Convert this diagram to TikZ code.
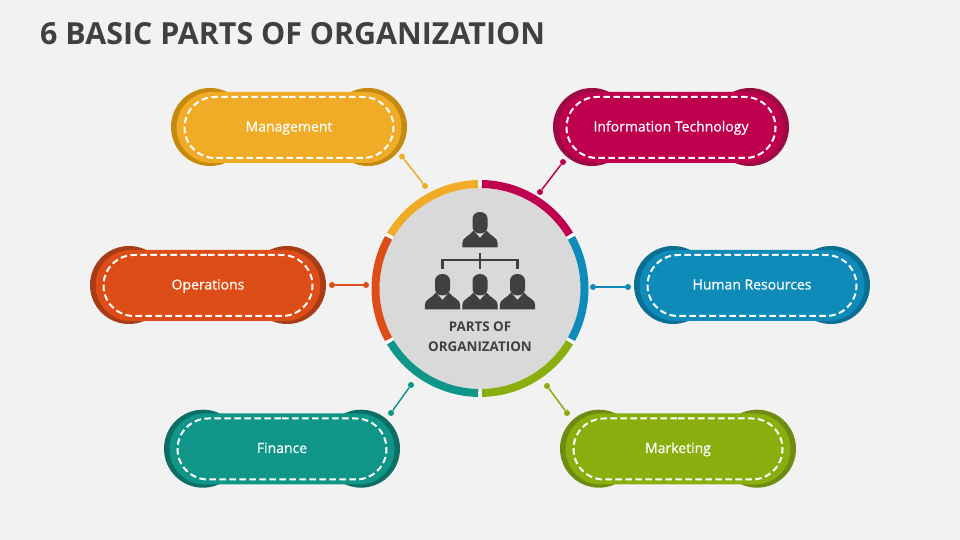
\documentclass[tikz,border=0pt]{standalone}
\usepackage{fontspec}
\setmainfont{Open Sans}
\newfontfamily\pillfont[FakeBold=0.4]{Open Sans}
\usepackage{tikz}
\usetikzlibrary{shapes.misc,positioning}
\definecolor{pagebg}{HTML}{F2F2F2}
\definecolor{hubgrey}{HTML}{D9D9D9}
\definecolor{inkgrey}{HTML}{404040}
\definecolor{mgmtcol}{HTML}{F0AB27}
\definecolor{mgmtdark}{HTML}{C58A0E}
\definecolor{itcol}{HTML}{BE004E}
\definecolor{itdark}{HTML}{9B0A42}
\definecolor{hrcol}{HTML}{0E8BB8}
\definecolor{hrdark}{HTML}{0A6F93}
\definecolor{opscol}{HTML}{DC4D17}
\definecolor{opsdark}{HTML}{A83C15}
\definecolor{fincol}{HTML}{0F9688}
\definecolor{findark}{HTML}{0C6F66}
\definecolor{mktcol}{HTML}{8AAE0E}
\definecolor{mktdark}{HTML}{6F8C12}
\tikzstyle{lobe} = [circle, minimum size=78pt, inner sep=0pt]
\tikzstyle{pillbox} = [rounded rectangle, minimum width=225pt, minimum height=71pt,
    inner sep=0pt, text=white, text height=10pt, text depth=2pt, font=\fontsize{14}{16}\pillfont]
\tikzstyle{dashbox} = [rounded rectangle, draw=white, line width=2pt,
    dash pattern=on 6.5pt off 3.5pt, minimum width=209pt, minimum height=61pt, inner sep=0pt]
\tikzstyle{enddot} = [circle, minimum size=6pt, inner sep=0pt]
\tikzstyle{link} = [line width=1.5pt]
\tikzstyle{ringarc} = [line width=8pt]
\tikzstyle{orgline} = [draw=inkgrey, line width=2.3pt]
\tikzstyle{hubtext} = [text=inkgrey, text height=10pt, text depth=0pt, font=\fontsize{13.4}{16}\selectfont\bfseries, inner sep=0pt]
\tikzset{person/.pic={
    \fill[inkgrey] (-7.5,-6.5) arc (180:0:7.5 and 6.5) -- (7.5,-15) arc (0:-180:7.5 and 6.5) -- cycle;
    \fill[inkgrey] (-17.7,-35.5) -- (-17.7,-31) .. controls (-17.7,-25) and (-10,-24) .. (-6.5,-18.5)
        -- (0,-26) -- (6.5,-18.5) .. controls (10,-24) and (17.7,-25) .. (17.7,-31)
        -- (17.7,-35.5) -- cycle;
    \fill[inkgrey] (-1.2,-26.5) -- (1.2,-26.5) -- (1.5,-33) -- (-1.5,-33) -- cycle;
}}
\begin{document}
\begin{tikzpicture}[x=1pt,y=1pt]
\useasboundingbox (0,0) rectangle (960,540);
\fill[pagebg] (0,0) rectangle (960,540);

\node[anchor=west, text=inkgrey, inner sep=0pt, font=\fontsize{30.4}{36}\selectfont\bfseries] (title) at (40,506) {6 BASIC PARTS OF ORGANIZATION};

% centre
\fill[white] (480,251.5) circle (108.5);
\node[circle, fill=hubgrey, minimum size=201pt, inner sep=0pt] (hub) at (480,251.5) {};
\draw[ringarc, draw=mgmtcol] (hub.center) ++(91:104.5) arc[start angle=91, end angle=149, radius=104.5];
\draw[ringarc, draw=itcol] (hub.center) ++(89:104.5) arc[start angle=89, end angle=31, radius=104.5];
\draw[ringarc, draw=hrcol] (hub.center) ++(29:104.5) arc[start angle=29, end angle=-29, radius=104.5];
\draw[ringarc, draw=mktcol] (hub.center) ++(-31:104.5) arc[start angle=-31, end angle=-89, radius=104.5];
\draw[ringarc, draw=fincol] (hub.center) ++(-91:104.5) arc[start angle=-91, end angle=-149, radius=104.5];
\draw[ringarc, draw=opscol] (hub.center) ++(151:104.5) arc[start angle=151, end angle=209, radius=104.5];

% icon
\pic at (480,328) {person};
\pic at (442.5,266) {person};
\pic at (480,266) {person};
\pic at (517.5,266) {person};
\coordinate (orgtop) at (480,287);
\coordinate (orgmid) at (480,280);
\coordinate (orgbot) at (480,271);
\coordinate (orgleft) at (442.5,271);
\coordinate (orgright) at (517.5,271);
\draw[orgline] (orgtop) -- (orgbot);
\draw[orgline] (orgleft) |- (orgmid) -| (orgright);

\node[hubtext] (hubline1) at (480,213) {PARTS OF};
\node[hubtext, below=9pt of hubline1] (hubline2) {ORGANIZATION};

% management
\node[lobe, fill=mgmtdark] (mgmtl) at (210,413) {};
\node[lobe, fill=mgmtdark] (mgmtr) at (368,413) {};
\node[pillbox, fill=mgmtcol] (mgmt) at (289,412.5) {Management};
\node[dashbox] (mgmtd) at (mgmt) {};
\node[enddot, fill=mgmtcol] (mgmta) at (402,383.5) {};
\node[enddot, fill=mgmtcol] (mgmtb) at (425,354) {};
\draw[link, draw=mgmtcol] (mgmta) -- (mgmtb);

% information technology
\node[lobe, fill=itdark] (itl) at (592,413) {};
\node[lobe, fill=itdark] (itr) at (750,413) {};
\node[pillbox, fill=itcol] (it) at (671,412.5) {Information Technology};
\node[dashbox] (itd) at (it) {};
\node[enddot, fill=itcol] (ita) at (563,378) {};
\node[enddot, fill=itcol] (itb) at (540,348) {};
\draw[link, draw=itcol] (ita) -- (itb);

% operations
\node[lobe, fill=opsdark] (opsl) at (129,255) {};
\node[lobe, fill=opsdark] (opsr) at (287,255) {};
\node[pillbox, fill=opscol] (ops) at (208,254.5) {Operations};
\node[dashbox] (opsd) at (ops) {};
\node[enddot, fill=opscol] (opsa) at (332,255) {};
\node[enddot, fill=opscol] (opsb) at (366,255) {};
\draw[link, draw=opscol] (opsa) -- (opsb);

% human resources
\node[lobe, fill=hrdark] (hrl) at (673,255) {};
\node[lobe, fill=hrdark] (hrr) at (831,255) {};
\node[pillbox, fill=hrcol] (hr) at (752,254.5) {Human Resources};
\node[dashbox] (hrd) at (hr) {};
\node[enddot, fill=hrcol] (hra) at (628,253) {};
\node[enddot, fill=hrcol] (hrb) at (593,253) {};
\draw[link, draw=hrcol] (hra) -- (hrb);

% finance
\node[lobe, fill=findark] (finl) at (203,91.3) {};
\node[lobe, fill=findark] (finr) at (361,91.3) {};
\node[pillbox, fill=fincol] (fin) at (282,91) {Finance};
\node[dashbox] (find) at (fin) {};
\node[enddot, fill=fincol] (fina) at (391,127) {};
\node[enddot, fill=fincol] (finb) at (411,155) {};
\draw[link, draw=fincol] (fina) -- (finb);

% marketing
\node[lobe, fill=mktdark] (mktl) at (599,91.3) {};
\node[lobe, fill=mktdark] (mktr) at (757,91.3) {};
\node[pillbox, fill=mktcol] (mkt) at (678,91) {Marketing};
\node[dashbox] (mktd) at (mkt) {};
\node[enddot, fill=mktcol] (mkta) at (567,127) {};
\node[enddot, fill=mktcol] (mktb) at (547,154) {};
\draw[link, draw=mktcol] (mkta) -- (mktb);

\end{tikzpicture}
\end{document}
